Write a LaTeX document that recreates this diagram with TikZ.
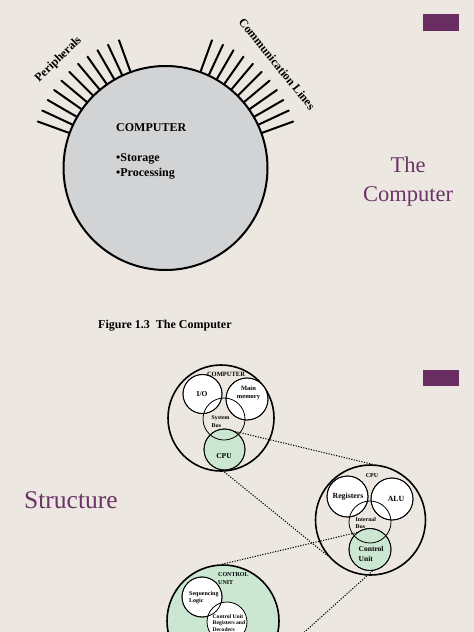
\documentclass[tikz,border=0pt]{standalone}
\usepackage{fontspec}
\setmainfont{Liberation Serif}
\usetikzlibrary{calc}
\definecolor{bg}{RGB}{236,232,225}
\definecolor{slidepurple}{RGB}{106,45,98}
\definecolor{titlepurple}{RGB}{108,52,102}
\definecolor{cgrey}{RGB}{210,211,212}
\definecolor{cgreen}{RGB}{204,231,209}
\begin{document}
\begin{tikzpicture}[x=1pt,y=-1pt,
  ring/.style={circle, draw=black, inner sep=0pt, minimum size=#1},
  bigring/.style={ring=#1, line width=1.6pt},
  smallring/.style={ring=#1, line width=0.8pt},
  spike/.style={line width=2pt, line cap=round},
  dotline/.style={line width=1pt, dash pattern=on 1.2pt off 1.4pt},
  fig/.style={font=\fontsize{12}{14}\selectfont\bfseries, inner sep=0pt},
  tiny/.style={font=\fontsize{#1}{#1}\selectfont\bfseries, inner sep=0pt},
  marker/.style={fill=slidepurple, draw=none}
]
\fill[bg] (0,0) rectangle (474,632);
\useasboundingbox (0,0) rectangle (474,632);
\clip (0,0) rectangle (474,632);

% ---------- slide 1 ----------
\fill[marker] (423,14) rectangle (459,31);
\node[circle, draw=black, fill=cgrey, line width=2pt, inner sep=0pt, minimum size=204pt] (bigc) at (165.5,168) {};
\foreach \a in {110,115,...,160} {\draw[spike] (bigc.\a) -- ++(-\a:33);}
\foreach \a in {20,25,...,70} {\draw[spike] (bigc.\a) -- ++(-\a:33);}
\node[fig, rotate=44] (periph) at (58.5,59.5) {Peripherals};
\node[fig, rotate=-51] (comml) at (277,64) {Communication Lines};
\node[fig, anchor=west] (comptxt) at (116,128) {COMPUTER};
\node[fig, anchor=west] (stor) at (116,159) {\textbullet Storage};
\node[fig, anchor=west] (proc) at (116,174) {\textbullet Processing};
\node[font=\fontsize{22.5}{29}\selectfont, text=titlepurple, align=center, inner sep=0pt] (ttl1) at (408,182) {The\\Computer};
\node[fig, anchor=west] (figcap) at (98,326) {Figure 1.3\ \ The Computer};

% ---------- slide 2 ----------
\fill[marker] (423,370) rectangle (459,386);
\node[font=\fontsize{25.5}{30}\selectfont, text=titlepurple, anchor=west, inner sep=0pt] (ttl2) at (24,500) {Structure};

% computer
\node[bigring=106pt] (comp) at (221,418) {};
\node[smallring=39pt, fill=white] (io) at (202.5,394) {};
\node[smallring=42pt, fill=white] (mem) at (247,399) {};
\node[smallring=41pt, fill=cgreen] (cpus) at (224.5,449.5) {};
\node[smallring=42pt] (sbus) at (224,419) {};
\draw[line width=0.8pt] (io.center) circle (19.5pt) (mem.center) circle (21pt) (cpus.center) circle (20.5pt);
\node[tiny=6.5] (lcomp) at (226,374) {COMPUTER};
\node[tiny=7.5] (lio) at (202,394) {I/O};
\node[tiny=6.5, align=center] (lmem) at (248.5,393) {Main\\[1.5pt]memory};
\node[font=\fontsize{5.8}{7.5}\selectfont\bfseries, inner sep=0pt, align=left, anchor=west] (lsbus) at (211.5,421.5) {System\\Bus};
\node[tiny=7.5] (lcpu) at (224,456) {CPU};

% cpu
\node[bigring=110pt] (cpub) at (370.5,520) {};
\node[smallring=41pt, fill=white] (reg) at (347.5,496.5) {};
\node[smallring=42pt, fill=white] (alu) at (392,499) {};
\node[smallring=42pt, fill=cgreen] (cus) at (370,549.5) {};
\node[smallring=42pt] (ibus) at (370,522) {};
\draw[line width=0.8pt] (reg.center) circle (20.5pt) (alu.center) circle (21pt) (cus.center) circle (21pt);
\node[tiny=6] (lcpub) at (372,475.5) {CPU};
\node[tiny=7.8] (lreg) at (348,497) {Registers};
\node[tiny=7.8] (lalu) at (396,499) {ALU};
\node[font=\fontsize{5.8}{7.5}\selectfont\bfseries, inner sep=0pt, align=left, anchor=west] (libus) at (355.5,523) {Internal\\Bus};
\node[font=\fontsize{7.5}{10}\selectfont\bfseries, inner sep=0pt, align=left, anchor=west] (lcus) at (358.5,554) {Control\\Unit};

% control unit
\node[bigring=112pt, fill=cgreen] (cub) at (223,621) {};
\node[smallring=40pt, fill=white] (seq) at (202,597) {};
\node[smallring=40pt, fill=white] (cureg) at (227,622) {};
\draw[line width=0.8pt] (seq.center) circle (20pt);
\node[font=\fontsize{6}{8}\selectfont\bfseries, inner sep=0pt, align=left, anchor=west] (lcub) at (218,579) {CONTROL\\UNIT};
\node[font=\fontsize{6}{7.5}\selectfont\bfseries, inner sep=0pt, align=left, anchor=west] (lseq) at (189,597.5) {Sequencing\\Logic};
\node[font=\fontsize{5.6}{6.6}\selectfont\bfseries, inner sep=0pt, align=left, anchor=north west] (lcureg) at (212.5,614) {Control Unit\\Registers and\\Decoders};

% zoom connectors
\coordinate (offpage) at (290,645);
\draw[dotline] (cpus.60) -- (cpub.88);
\draw[dotline] (cpus.-96) -- (cpub.-140);
\draw[dotline] (cus.127) -- (cub.91);
\draw[dotline] (cus.-83) -- (offpage);
\end{tikzpicture}
\end{document}
